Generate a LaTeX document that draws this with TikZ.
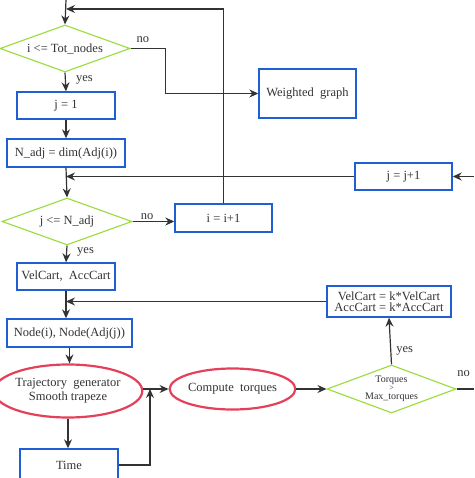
\documentclass[tikz,border=0pt]{standalone}
\usepackage{fontspec}
\setmainfont{Liberation Serif}
\usetikzlibrary{arrows.meta,%
                shapes.geometric}
\definecolor{boxblue}{HTML}{1F5FD6}
\definecolor{condgreen}{HTML}{9ADB3C}
\definecolor{ellred}{HTML}{E5405A}
\definecolor{ink}{HTML}{333333}
\tikzstyle{qbox}=[rectangle, draw=boxblue, line width=1.4pt, fill=white, text=ink, inner sep=2pt]
\tikzstyle{qcond}=[diamond, draw=condgreen, line width=1.1pt, fill=white, text=ink, inner sep=0pt]
\tikzstyle{qell}=[ellipse, draw=ellred, line width=2.2pt, fill=white, text=ink, inner sep=0pt]
\tikzstyle{flow}=[draw=ink, line width=1.2pt, -{Stealth[length=9pt,width=8pt,inset=3pt]}]
\tikzstyle{lbl}=[text=ink, inner sep=1pt]

\begin{document}
\begin{tikzpicture}[x=1pt,y=-1pt,font=\fontsize{12.5}{14}\selectfont]
  \useasboundingbox (0,0) rectangle (474,478);
  % left column
  \node[qcond, minimum width=130pt, minimum height=47pt, aspect=2.77] (cond1) at (65,48.5) {i <= Tot\_nodes};
  \node[qbox, minimum width=98pt, minimum height=27pt] (jinit) at (66,105.5) {j = 1};
  \node[qbox, minimum width=118pt, minimum height=28pt] (nadj) at (66,153) {N\_adj = dim(Adj(i))};
  \node[qcond, minimum width=130pt, minimum height=47pt, aspect=2.77] (cond2) at (67,221.5) {j <= N\_adj};
  \node[qbox, minimum width=98pt, minimum height=27pt] (cart) at (66,276.5) {VelCart,\ \ AccCart};
  \node[qbox, minimum width=125pt, minimum height=28pt] (nodes) at (69.5,333) {Node(i), Node(Adj(j))};
  \node[qell, minimum width=130pt, minimum height=53pt, align=center] (traj) at (68,391) {Trajectory\ \ generator\\Smooth trapeze};
  \node[qbox, minimum width=98pt, minimum height=32pt] (time) at (69,465) {Time};
  % right part
  \node[qbox, minimum width=97pt, minimum height=49pt] (graph) at (307.5,93.5) {Weighted\ \ graph};
  \node[qbox, minimum width=97pt, minimum height=27pt] (jinc) at (403.5,176.5) {j = j+1};
  \node[qbox, minimum width=97pt, minimum height=28pt] (iinc) at (223.5,218) {i = i+1};
  \node[qbox, minimum width=124pt, minimum height=31pt, align=center, font=\fontsize{12.5}{11}\selectfont] (scale) at (389,301.5) {VelCart = k*VelCart\\AccCart = k*AccCart};
  \node[qell, minimum width=119pt, minimum height=41pt] (torq) at (232.5,389) {Compute\ \ torques};
  \node[qcond, minimum width=129pt, minimum height=48pt, aspect=2.69, align=center, font=\fontsize{10}{9}\selectfont] (cond3) at (391.5,389) {Torques\\[-1pt]{\fontsize{8}{6}\selectfont >}\\[0pt]Max\_torques};

  \coordinate (start) at (66,0);
  \coordinate (loopi) at (66,9);
  \coordinate (loopj) at (66,176.5);
  \coordinate (loopk) at (66,301.5);
  \coordinate (join) at (150,389);
  \coordinate (inj) at (474,176.5);
  \coordinate (outno) at (474,389);

  \draw[flow] (start) -- (cond1.north);
  \draw[flow] (cond1.south) -- node[lbl, right, pos=0.4, xshift=9pt] {yes} (jinit.north);
  \draw[flow] (cond1.east) -- node[lbl, above, pos=0.35, yshift=4pt] {no} ++(35,0) |- (graph.west);
  \draw[flow] (jinit.south) -- (nadj.north);
  \draw[flow] (nadj.south) -- (cond2.north);
  \draw[flow] (cond2.east) -- node[lbl, above, pos=0.35] {no} (cond2.east -| iinc.west);
  \draw[flow] (cond2.south) -- node[lbl, right, pos=0.4, xshift=9pt] {yes} (cart.north);
  \draw[flow] (cart.south) -- (cart.south |- nodes.north);
  \draw[flow] (nodes.south) -- (nodes.south |- traj.north);
  \draw[flow] (traj.south) -- (traj.south |- time.north);
  \draw[flow] (join -| traj.east) -- (torq.west);
  \draw[flow] (time.east) -| (join);
  \draw[flow] (torq.east) -- (cond3.west);
  \draw[flow] (cond3.north) -- node[lbl, right, pos=0.3, xshift=4pt] {yes} (scale.south);
  \draw[draw=ink, line width=1.2pt] (cond3.east) -- node[lbl, above, pos=0.4, yshift=11pt] {no} (outno);
  % loops back
  \draw[flow] (iinc.north) |- (loopi);
  \draw[flow] (jinc.west) -- (loopj);
  \draw[flow] (inj) -- (jinc.east);
  \draw[flow] (scale.west) -- (loopk);
\end{tikzpicture}
\end{document}
